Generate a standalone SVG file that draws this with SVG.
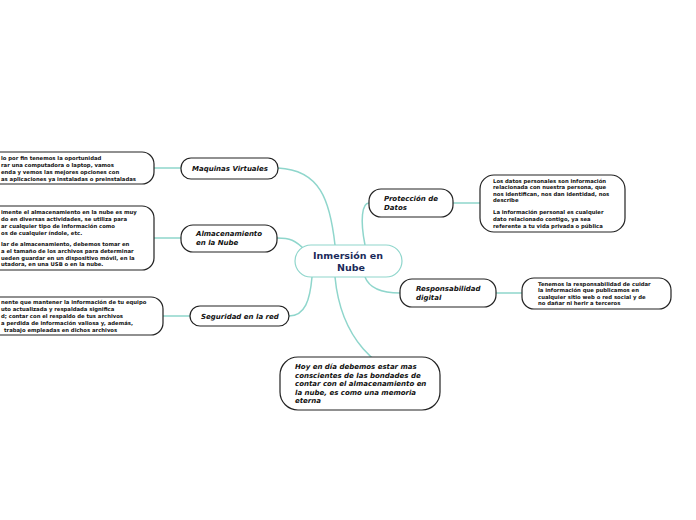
<svg xmlns="http://www.w3.org/2000/svg" width="696" height="520" viewBox="0 0 696 520">
<style>
.b{fill:#fff;stroke:#222;stroke-width:1.2}
.c{fill:none;stroke:#8fd6cc;stroke-width:1.5}
.t{font-family:"DejaVu Sans",Verdana,sans-serif;font-weight:bold;font-style:italic;font-size:7px;fill:#111}
.s{font-family:"DejaVu Sans",Verdana,sans-serif;font-weight:bold;font-size:5.3px;fill:#111}
.m{font-family:"DejaVu Sans",Verdana,sans-serif;font-weight:bold;font-size:9.5px;fill:#1a2a5a}
</style>
<rect width="696" height="520" fill="#fff"/>
<g id="connectors">
<path class="c" d="M335,245 C330,200 320,170 278,168" stroke-width="2"/>
<path class="c" d="M305,250 C295,240 290,238 277,238"/>
<path class="c" d="M312,277 C310,300 305,316 289,316"/>
<path class="c" d="M365,245 C360,220 362,203 369,203"/>
<path class="c" d="M365,277 C370,290 385,293 400,293"/>
<path class="c" d="M335,277 C340,330 370,380 440,383" stroke-width="2"/>
<path class="c" d="M154,168H181M154,238H181M163,316H190M453,203H480M496,293H522" stroke-width="1"/>
</g>
<g id="center"><rect x="295" y="245" width="107" height="32" rx="16" fill="#fff" stroke="#8fd6cc" stroke-width="1.2"/>
<text class="m" x="313" y="259">Inmersión en</text><text class="m" x="337" y="271">Nube</text></g>
<g id="maquinas"><rect class="b" x="181" y="158" width="97" height="21" rx="10"/><text class="t" x="192" y="171">Maquinas Virtuales</text></g>
<g id="maquinas-nota"><rect class="b" x="-20" y="152" width="174" height="32" rx="12"/>
<text class="s" x="1" y="160">lo por fin tenemos la oportunidad</text>
<text class="s" x="1" y="167">rar una computadora o laptop, vamos</text>
<text class="s" x="1" y="174">enda y vemos las mejores opciones con</text>
<text class="s" x="1" y="181">as aplicaciones ya instaladas o preinstaladas</text></g>
<g id="almacenamiento"><rect class="b" x="181" y="225" width="96" height="27" rx="12"/>
<text class="t" x="196" y="236">Almacenamiento</text><text class="t" x="196" y="245">en la Nube</text></g>
<g id="almacenamiento-nota"><rect class="b" x="-20" y="206" width="174" height="64" rx="12"/>
<text class="s" x="1" y="214">imente el almacenamiento en la nube es muy</text>
<text class="s" x="1" y="221">do en diversas actividades, se utiliza para</text>
<text class="s" x="1" y="228">ar cualquier tipo de información como</text>
<text class="s" x="1" y="235">os de cualquier índole, etc.</text>
<text class="s" x="1" y="246">lar de almacenamiento, debemos tomar en</text>
<text class="s" x="1" y="253">a el tamaño de los archivos para determinar</text>
<text class="s" x="1" y="260">ueden guardar en un dispositivo móvil, en la</text>
<text class="s" x="1" y="266">utadora, en una USB o en la nube.</text></g>
<g id="seguridad"><rect class="b" x="190" y="306" width="99" height="20" rx="10"/><text class="t" x="201" y="319">Seguridad en la red</text></g>
<g id="seguridad-nota"><rect class="b" x="-20" y="297" width="183" height="38" rx="12"/>
<text class="s" x="1" y="304">nente que mantener la información de tu equipo</text>
<text class="s" x="1" y="311">uto actualizada y respaldada significa</text>
<text class="s" x="1" y="318">d; contar con el respaldo de tus archivos</text>
<text class="s" x="1" y="325">a perdida de información valiosa y, además,</text>
<text class="s" x="4" y="332">trabajo empleadas en dichos archivos</text></g>
<g id="proteccion"><rect class="b" x="369" y="189" width="84" height="28" rx="12"/>
<text class="t" x="384" y="201">Protección de</text><text class="t" x="384" y="210">Datos</text></g>
<g id="proteccion-nota"><rect class="b" x="480" y="175" width="145" height="57" rx="14"/>
<text class="s" x="493" y="183">Los datos personales son información</text>
<text class="s" x="493" y="189">relacionada con nuestra persona, que</text>
<text class="s" x="493" y="196">nos identifican, nos dan identidad, nos</text>
<text class="s" x="493" y="202">describe</text>
<text class="s" x="493" y="214">La información personal es cualquier</text>
<text class="s" x="493" y="221">dato relacionado contigo, ya sea</text>
<text class="s" x="493" y="228">referente a tu vida privada o pública</text></g>
<g id="responsabilidad"><rect class="b" x="400" y="279" width="96" height="28" rx="12"/>
<text class="t" x="416" y="291">Responsabilidad</text><text class="t" x="416" y="300">digital</text></g>
<g id="responsabilidad-nota"><rect class="b" x="522" y="278" width="149" height="31" rx="12"/>
<text class="s" x="538" y="286">Tenemos la responsabilidad de cuidar</text>
<text class="s" x="538" y="292">la información que publicamos en</text>
<text class="s" x="538" y="299">cualquier sitio web o red social y de</text>
<text class="s" x="538" y="305">no dañar ni herir a terceros</text></g>
<g id="memoria"><rect class="b" x="280" y="357" width="160" height="53" rx="18"/>
<text class="t" x="295" y="369">Hoy en día debemos estar mas</text>
<text class="t" x="295" y="378">conscientes de las bondades de</text>
<text class="t" x="295" y="386">contar con el almacenamiento en</text>
<text class="t" x="295" y="395">la nube, es como una memoria</text>
<text class="t" x="295" y="403">eterna</text></g>
</svg>
